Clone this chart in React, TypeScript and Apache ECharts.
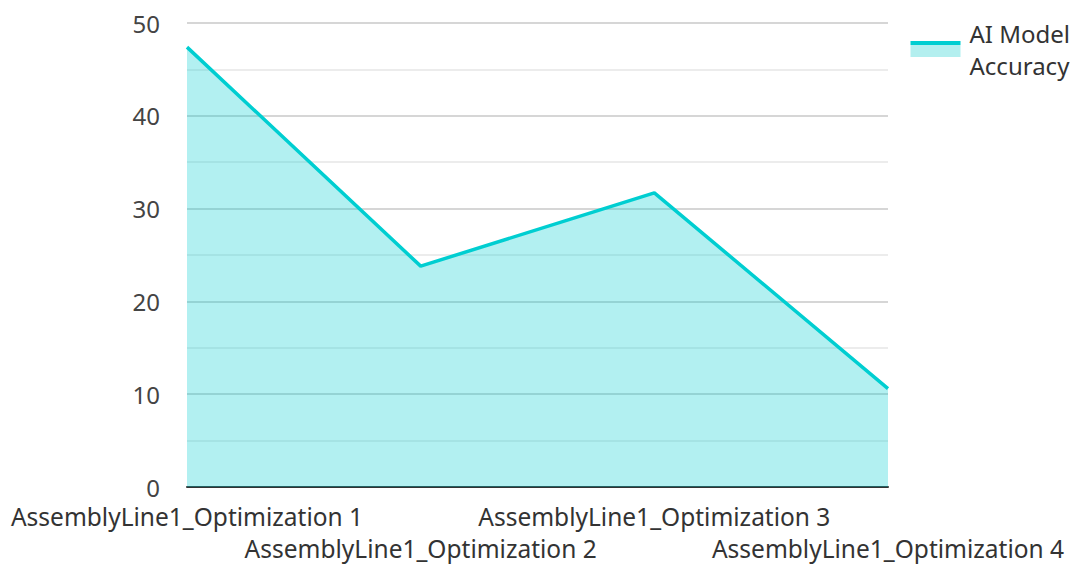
import React, { useEffect, useRef } from "react";
import * as echarts from "echarts";

const categories = [
  "AssemblyLine1_Optimization 1",
  "AssemblyLine1_Optimization 2",
  "AssemblyLine1_Optimization 3",
  "AssemblyLine1_Optimization 4",
];
const accuracy = [47.4, 23.8, 31.7, 10.6];
const seriesName = "AI Model Accuracy";

export default function App() {
  const ref = useRef<HTMLDivElement>(null);
  useEffect(() => {
    if (!ref.current) return;
    const chart = echarts.init(ref.current, undefined, { renderer: "svg" });
    chart.setOption({
      animation: false,
      textStyle: { fontFamily: "Noto Sans" },
      grid: { left: 187, right: 190, top: 23, bottom: 74, containLabel: false },
      legend: {
        right: 3,
        top: 16,
        orient: "vertical",
        icon: "rect",
        itemWidth: 50,
        itemHeight: 16,
        itemStyle: {
          color: new echarts.graphic.LinearGradient(0, 0, 0, 1, [
            { offset: 0, color: "#00CED1" },
            { offset: 0.28, color: "#00CED1" },
            { offset: 0.28, color: "#b3efef" },
            { offset: 1, color: "#b3efef" },
          ]),
        },
        formatter: () => "AI Model\nAccuracy",
        textStyle: {
          fontSize: 24,
          color: "#333",
          lineHeight: 32,
          height: 32,
          padding: [0, 0, 0, 4],
          fontFamily: "Noto Sans",
        },
        data: [seriesName],
      },
      xAxis: {
        type: "category",
        data: categories,
        boundaryGap: false,
        axisLine: { lineStyle: { color: "#333", width: 2 } },
        axisTick: { show: false },
        axisLabel: {
          interval: 0,
          fontSize: 24.5,
          color: "#333",
          lineHeight: 32,
          margin: 13,
          formatter: (v: string, i: number) => (i % 2 === 1 ? "\n" + v : v),
        },
        splitLine: { show: false },
      },
      yAxis: {
        type: "value",
        min: 0,
        max: 50,
        interval: 10,
        axisLine: { show: false },
        axisTick: { show: false },
        axisLabel: { fontSize: 24, color: "#444", margin: 27 },
        splitLine: { lineStyle: { color: "#c8c8c8", width: 1.5 } },
        minorTick: { show: false, splitNumber: 2 },
        minorSplitLine: { show: true, lineStyle: { color: "#e6e6e6", width: 1.5 } },
      },
      series: [
        {
          name: seriesName,
          type: "line",
          data: accuracy,
          symbol: "none",
          lineStyle: { color: "#00CED1", width: 3.5 },
          itemStyle: { color: "#00CED1" },
          areaStyle: { color: "#00CED1", opacity: 0.3 },
        },
      ],
    });
    return () => chart.dispose();
  }, []);
  return (
    <div
      ref={ref}
      style={{ position: "absolute", left: 0, top: 0, width: 1078, height: 564 }}
    />
  );
}
